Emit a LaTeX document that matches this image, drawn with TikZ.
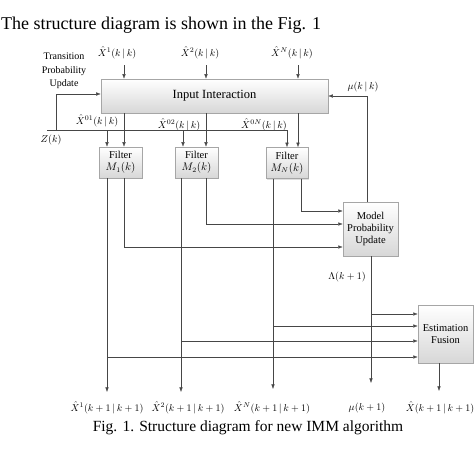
\documentclass[tikz,border=0pt]{standalone}
\usepackage{amsmath}
\usepackage{fontspec}
\setmainfont{Liberation Serif}
\usepackage{tikz}
\usetikzlibrary{arrows.meta, positioning, calc, shadows}
\definecolor{lineColor}{RGB}{70, 70, 70}
\definecolor{boxColor}{RGB}{215, 215, 215}

\begin{document}
\begin{tikzpicture}[
    x=1pt, y=-1pt,
    block/.style={rectangle, draw=gray!70, top color=white, bottom color=boxColor, drop shadow={opacity=0.25, shadow xshift=1pt, shadow yshift=-1pt}, align=center, inner sep=1pt, font=\fontsize{10.5}{12}\selectfont},
    lbl/.style={inner sep=0pt, font=\fontsize{10}{12}\selectfont},
    arrow/.style={-{Latex[length=1.6mm, width=1.2mm]}, lineColor},
    wire/.style={lineColor}
]
    \useasboundingbox (0,0) rectangle (474,463);

    % Page text
    \node[anchor=west, inner sep=0pt, font=\fontsize{18}{21}\selectfont] (intro) at (1,25) {The structure diagram is shown in the Fig. 1};
    \node[inner sep=0pt, font=\fontsize{15.5}{18}\selectfont] (caption) at (248,428) {Fig. 1. Structure diagram for new IMM algorithm};

    % Blocks
    \node[block, minimum width=227pt, minimum height=34pt, font=\fontsize{12.5}{14}\selectfont] (ii) at (214.5,96) {Input Interaction};
    \node[block, minimum width=43pt, minimum height=31pt] (f1) at (120.5,162.5) {Filter\\$M_1(k)$};
    \node[block, minimum width=43pt, minimum height=31pt] (f2) at (196.5,162.5) {Filter\\$M_2(k)$};
    \node[block, minimum width=42pt, minimum height=31pt] (fN) at (287,163) {Filter\\$M_N(k)$};
    \node[block, minimum width=55pt, minimum height=54pt] (mpu) at (370.5,229) {Model\\Probability\\Update};
    \node[block, minimum width=55pt, minimum height=58pt] (ef) at (445.5,334) {Estimation\\Fusion};

    % Labels
    \node[lbl] (x1) at (117,53) {$\hat{X}^{1}(k\,|\,k)$};
    \node[lbl] (x2) at (200,53) {$\hat{X}^{2}(k\,|\,k)$};
    \node[lbl] (xN) at (292,53) {$\hat{X}^{N}(k\,|\,k)$};
    \node[lbl, align=center, font=\fontsize{10}{13.5}\selectfont] (tpu) at (64,71) {Transition\\Probability\\Update};
    \node[lbl] (z) at (51,140) {$Z(k)$};
    \node[lbl] (x01) at (97,121) {$\hat{X}^{01}(k\,|\,k)$};
    \node[lbl] (x02) at (179,125) {$\hat{X}^{02}(k\,|\,k)$};
    \node[lbl] (x0N) at (264,125) {$\hat{X}^{0N}(k\,|\,k)$};
    \node[lbl] (mukk) at (363,87) {$\mu(k\,|\,k)$};
    \node[lbl] (lam) at (347,277) {$\Lambda(k+1)$};
    \node[lbl] (y1) at (107,408) {$\hat{X}^{1}(k+1\,|\,k+1)$};
    \node[lbl] (y2) at (188,408) {$\hat{X}^{2}(k+1\,|\,k+1)$};
    \node[lbl] (yN) at (272,408) {$\hat{X}^{N}(k+1\,|\,k+1)$};
    \node[lbl] (mu1) at (367,408) {$\mu(k+1)$};
    \node[lbl] (yy) at (440,408) {$\hat{X}(k+1\,|\,k+1)$};

    % Junction points
    \coordinate (zs) at (47,130);
    \coordinate (zu) at (56,130);
    \coordinate (zend) at (287,130);
    \coordinate (o1) at (107,392);
    \coordinate (o2) at (181,392);
    \coordinate (oN) at (273,389);
    \coordinate (om) at (371,383);
    \coordinate (oe) at (439,391);

    % Inputs to Input Interaction
    \draw[arrow] (x1.south -| 124,0) ++(0,6) -- (124,0 |- ii.north);
    \draw[arrow] (x2.south -| 206,0) ++(0,6) -- (206,0 |- ii.north);
    \draw[arrow] (xN.south -| 298,0) ++(0,6) -- (298,0 |- ii.north);
    \draw[wire] (zs) -- (zend);
    \draw[arrow] (zu) |- (ii.west |- 0,94);

    % Input Interaction to filters
    \draw[arrow] (ii.south -| 124,0) -- (f1.north -| 124,0);
    \draw[arrow] (ii.south -| 206,0) -- (f2.north -| 206,0);
    \draw[arrow] (ii.south -| 298,0) -- (fN.north -| 298,0);
    \draw[arrow] (zs -| 107,0) -- (f1.north -| 107,0);
    \draw[arrow] (zs -| 183,0) -- (f2.north -| 183,0);
    \draw[arrow] (zend) -- (fN.north -| zend);

    % Filters to Model Probability Update
    \draw[arrow] (f1.south -| 124,0) |- (mpu.west |- 0,247);
    \draw[arrow] (f2.south -| 206,0) |- (mpu.west |- 0,224);
    \draw[arrow] (fN.south -| 301,0) |- (mpu.west |- 0,211);
    \draw[arrow] (mpu.north -| 367,0) |- (ii.east |- 0,96);

    % Filter outputs
    \draw[arrow] (f1.south -| o1) -- (o1);
    \draw[arrow] (f2.south -| o2) -- (o2);
    \draw[arrow] (fN.south -| oN) -- (oN);
    \draw[arrow] (mpu.south -| om) -- (om);
    \draw[arrow] (ef.south -| oe) -- (oe);

    % Estimation Fusion inputs
    \draw[arrow] (om |- 0,314) -- (ef.west |- 0,314);
    \draw[arrow] (oN |- 0,326) -- (ef.west |- 0,326);
    \draw[arrow] (o2 |- 0,341) -- (ef.west |- 0,341);
    \draw[arrow] (o1 |- 0,357) -- (ef.west |- 0,357);

\end{tikzpicture}
\end{document}
